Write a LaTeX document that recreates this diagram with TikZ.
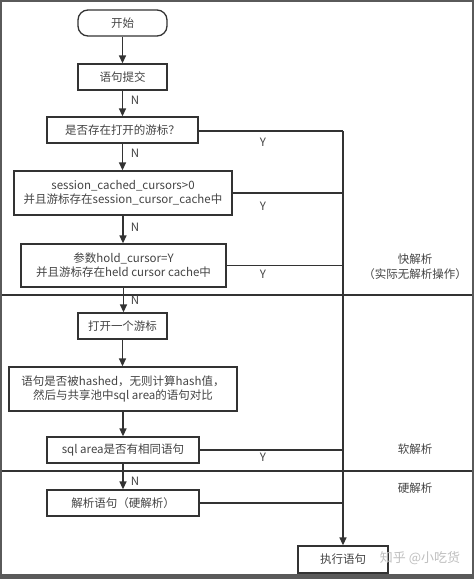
\documentclass[tikz,border=0pt]{standalone}
\usepackage{fontspec}
\setmainfont{Noto Sans CJK SC}
\usetikzlibrary{arrows.meta}
\definecolor{ln}{HTML}{333333}
\definecolor{tx}{HTML}{444444}
\definecolor{fr}{HTML}{5A5A5A}
\tikzset{
  box/.style={draw=ln, line width=1.3pt, fill=white, inner sep=1pt, align=center, text=tx, font=\fontsize{11.5}{14}\selectfont},
  arr/.style={draw=ln, line width=1.4pt, -{Triangle[length=8pt,width=7pt]}},
  con/.style={draw=ln, line width=1.4pt},
  lab/.style={text=tx, font=\fontsize{11.5}{14}\selectfont, inner sep=0pt},
  sep/.style={draw=ln, line width=1.3pt},
}
\begin{document}
\begin{tikzpicture}[x=1pt,y=-1pt]
\useasboundingbox (0,0) rectangle (474,579);
\fill[fr] (0,0) rectangle (474,579);
\fill[white] (2,2) rectangle (472,574);
% separators
\draw[sep] (2,295) -- (472,295);
\draw[sep] (2,471) -- (472,471);
% nodes
\node[box, rounded corners=10pt, minimum width=89pt, minimum height=26pt] (start) at (122.5,23) {开始};
\node[box, minimum width=89pt, minimum height=26pt] (submit) at (122.5,77) {语句提交};
\node[box, minimum width=151pt, minimum height=26pt] (q1) at (122.5,130) {是否存在打开的游标？};
\node[box, minimum width=218pt, minimum height=44pt] (q2) at (123,193) {session\_cached\_cursors>0\\并且游标存在session\_cursor\_cache中};
\node[box, minimum width=205pt, minimum height=43pt] (q3) at (123.5,265.5) {参数hold\_cursor=Y\\并且游标存在held cursor cache中};
\node[box, minimum width=89pt, minimum height=26pt] (open) at (122.5,326) {打开一个游标};
\node[box, minimum width=228pt, minimum height=44pt] (hash) at (123,389) {语句是否被hashed，无则计算hash值，\\然后与共享池中sql area的语句对比};
\node[box, minimum width=152pt, minimum height=26pt] (sqlarea) at (123,450) {sql area是否有相同语句};
\node[box, minimum width=152pt, minimum height=26pt] (parse) at (123,503) {解析语句（硬解析）};
\node[box, minimum width=90pt, minimum height=27pt] (exec) at (343,559.5) {执行语句};
% main flow
\draw[arr] (start.south) -- (start.south |- submit.north);
\draw[arr] (submit.south) -- (submit.south |- q1.north);
\draw[arr] (q1.south) -- (q1.south |- q2.north);
\draw[arr] (q2.south) -- (q2.south |- q3.north);
\draw[arr] (q3.south) -- (q3.south |- open.north);
\draw[arr] (open.south) -- (open.south |- hash.north);
\draw[arr] (hash.south) -- (hash.south |- sqlarea.north);
\draw[arr] (sqlarea.south) -- (sqlarea.south |- parse.north);
% right branches
\coordinate (top) at (343,131);
\draw[con] (q1.east |- top) -- (top);
\draw[arr] (top) -- (exec.north);
\draw[con] (q2.east) -- (q2.east -| top);
\draw[con] (q3.east) -- (q3.east -| top);
\draw[con] (sqlarea.east) -- (sqlarea.east -| top);
\draw[con] (parse.east) -- (parse.east -| top);
% N labels
\node[lab] (n1) at (135,100) {N};
\node[lab] (n2) at (135,153) {N};
\node[lab] (n3) at (135,227) {N};
\node[lab] (n4) at (135,300) {N};
\node[lab] (n5) at (135,481) {N};
% Y labels
\node[lab] (y1) at (263,142) {Y};
\node[lab] (y2) at (263,206) {Y};
\node[lab] (y3) at (263,274) {Y};
\node[lab] (y4) at (263,457) {Y};
% right side labels
\node[lab] (fast1) at (415,259) {快解析};
\node[lab] (fast2) at (415,274) {（实际无解析操作）};
\node[lab] (soft) at (415,449) {软解析};
\node[lab] (hard) at (415,488) {硬解析};
% watermark
\node[lab, text=black!25, font=\fontsize{13}{15}\selectfont] (wm) at (420,558) {知乎 @小吃货};
\end{tikzpicture}
\end{document}
